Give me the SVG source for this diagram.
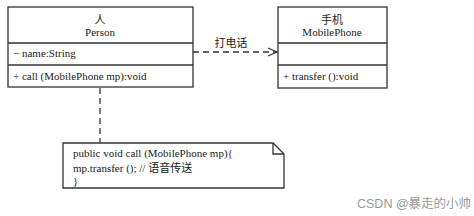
<svg xmlns="http://www.w3.org/2000/svg" width="474" height="216" viewBox="0 0 474 216">
<defs>
<style>
.box{fill:#fff;stroke:#333;stroke-width:1.3}
.ln{stroke:#333;stroke-width:1.3;fill:none}
.dash{stroke:#333;stroke-width:1.3;fill:none;stroke-dasharray:6,4}
.t{font-family:"Liberation Serif","Noto Sans CJK SC",serif;font-size:11px;fill:#222}
.c{text-anchor:middle}
.wm{font-family:"Liberation Sans","Noto Sans CJK SC",sans-serif;font-size:12.5px;fill:#999}
</style>
<marker id="open" markerWidth="12" markerHeight="12" refX="10" refY="6" orient="auto" markerUnits="userSpaceOnUse">
<path d="M1,2 L10,6 L1,10" fill="none" stroke="#333" stroke-width="1.3"/>
</marker>
</defs>
<rect width="474" height="216" fill="#fff"/>
<g id="connectors">
<line class="dash" x1="193" y1="52" x2="277" y2="52" marker-end="url(#open)"/>
<text class="t c" x="231" y="47">打电话</text>
<line class="dash" x1="100" y1="88" x2="100" y2="143"/>
</g>
<g id="person">
<rect class="box" x="8" y="7" width="185" height="80"/>
<line class="ln" x1="8" y1="43" x2="193" y2="43"/>
<line class="ln" x1="8" y1="65" x2="193" y2="65"/>
<text class="t c" x="100" y="24">人</text>
<text class="t c" x="100" y="36">Person</text>
<text class="t" x="13" y="57">− name:String</text>
<text class="t" x="13" y="80">+ call (MobilePhone mp):void</text>
</g>
<g id="mobilephone">
<rect class="box" x="278" y="7" width="109" height="81"/>
<line class="ln" x1="278" y1="43" x2="387" y2="43"/>
<line class="ln" x1="278" y1="65" x2="387" y2="65"/>
<text class="t c" x="332" y="24">手机</text>
<text class="t c" x="332" y="36">MobilePhone</text>
<text class="t" x="283" y="80">+ transfer ():void</text>
</g>
<g id="note">
<path class="box" d="M63,143 L273,143 L284,154 L284,188 L63,188 Z"/>
<path class="ln" d="M273,143 L273,154 L284,154"/>
<text class="t" x="73" y="157">public void call (MobilePhone mp){</text>
<text class="t" x="73" y="172">mp.transfer (); // 语音传送</text>
<text class="t" x="73" y="185">}</text>
</g>
<text class="wm" x="357" y="208">CSDN @暴走的小帅</text>
</svg>
